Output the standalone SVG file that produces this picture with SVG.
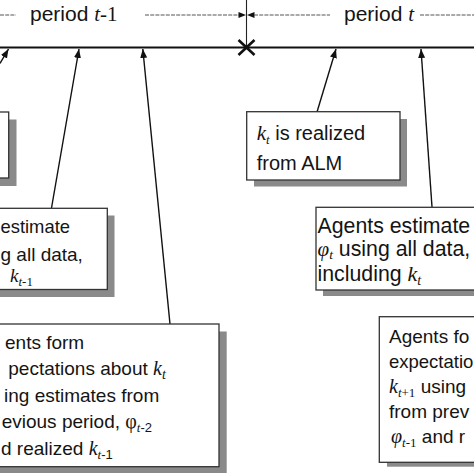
<svg xmlns="http://www.w3.org/2000/svg" width="474" height="474" viewBox="0 0 474 474">
<defs>
<marker id="ah" markerWidth="9" markerHeight="8" refX="9" refY="4" orient="auto" markerUnits="userSpaceOnUse">
<path d="M0,0.5 L9,4 L0,7.5 z" fill="#111"/>
</marker>
</defs>
<style>
.t{font-family:"Liberation Sans",Arial,sans-serif;fill:#141414}
.m{font-family:"Liberation Serif","Times New Roman",serif;font-style:italic}
.r{font-family:"Liberation Serif","Times New Roman",serif}
.box{fill:#fff;stroke:#333;stroke-width:1.3}
.sh{fill:#8a8a8a}
.dim{stroke:#555;stroke-width:1;stroke-dasharray:4 1.2;fill:none}
.con{stroke:#111;stroke-width:1.4;fill:none;marker-end:url(#ah)}
</style>
<rect width="474" height="474" fill="#fff"/>

<g id="timeline">
<line x1="0" y1="47.5" x2="474" y2="47.5" stroke="#111" stroke-width="1.8"/>
<line x1="246.5" y1="0" x2="246.5" y2="47" stroke="#222" stroke-width="1.1"/>
<path d="M238.5,40 L254.5,55 M254.5,40 L238.5,55" stroke="#111" stroke-width="2.6"/>
</g>

<g id="period-labels">
<line class="dim" x1="0" y1="15" x2="16" y2="15"/>
<line class="dim" x1="145" y1="15" x2="239" y2="15"/>
<polygon points="246,15 238.5,12 238.5,18" fill="#111"/>
<polygon points="247,15 254.5,12 254.5,18" fill="#111"/>
<line class="dim" x1="254" y1="15" x2="330" y2="15"/>
<line class="dim" x1="420" y1="15" x2="474" y2="15"/>
<text class="t" x="30" y="21" font-size="21">period <tspan class="m">t</tspan><tspan class="r">-1</tspan></text>
<text class="t" x="344" y="21" font-size="21">period <tspan class="m">t</tspan></text>
</g>

<g id="connectors">
<line class="con" x1="0" y1="63.5" x2="8.5" y2="49"/>
<line class="con" x1="51.5" y1="208" x2="79" y2="49"/>
<line class="con" x1="170" y1="324" x2="142.8" y2="49"/>
<line class="con" x1="317" y1="112" x2="336" y2="49"/>
<line class="con" x1="432" y1="207" x2="421" y2="49"/>
</g>

<g id="box-left-top">
<rect class="sh" x="-10" y="119.5" width="26.5" height="66.5"/>
<rect class="box" x="-10" y="112" width="18.7" height="66"/>
</g>

<g id="box-left-estimate">
<rect class="sh" x="-10" y="215.5" width="124.5" height="81.5"/>
<rect class="box" x="-10" y="208.3" width="117.3" height="81.2"/>
<text class="t" x="0.5" y="233.3" font-size="18.4">estimate</text>
<text class="t" x="0.5" y="261" font-size="19">g all data,</text>
<text class="t" x="10" y="281.7" font-size="19"><tspan class="m">k</tspan><tspan class="m" font-size="13" dy="4">t</tspan><tspan class="r" font-size="13">-1</tspan></text>
</g>

<g id="box-left-expect">
<rect class="sh" x="-10" y="331.5" width="236.7" height="141.5"/>
<rect class="box" x="-10" y="324" width="229" height="142.7"/>
<text class="t" x="5" y="349" font-size="19">ents form</text>
<text class="t" x="8.3" y="375" font-size="19">pectations about <tspan class="m" font-size="20">k</tspan><tspan class="m" font-size="14" dy="4">t</tspan></text>
<text class="t" x="4" y="401.7" font-size="19">ing estimates from</text>
<text class="t" x="1.7" y="428.3" font-size="19">evious period, <tspan class="r" font-size="20">φ</tspan><tspan class="m" font-size="13" dy="4">t</tspan><tspan font-size="13">-2</tspan></text>
<text class="t" x="1" y="455" font-size="19">d realized <tspan class="m" font-size="20">k</tspan><tspan class="m" font-size="13" dy="4">t</tspan><tspan font-size="13">-1</tspan></text>
</g>

<g id="box-kt-realized">
<rect class="sh" x="254" y="119" width="153" height="67.5"/>
<rect class="box" x="246.7" y="111.7" width="153.3" height="68.3"/>
<text class="t" x="256.7" y="140" font-size="20"><tspan class="m" font-size="21">k</tspan><tspan class="m" font-size="13" dy="4">t</tspan><tspan dy="-4"> is realized</tspan></text>
<text class="t" x="256.7" y="170" font-size="20">from ALM</text>
</g>

<g id="box-right-estimate">
<rect class="sh" x="323" y="214.5" width="170" height="81.5"/>
<rect class="box" x="316" y="207.3" width="170" height="82.7"/>
<text class="t" x="317.5" y="233.3" font-size="21.3">Agents estimate</text>
<text class="t" x="317.5" y="256.2" font-size="21.3"><tspan class="m" font-size="21">φ</tspan><tspan class="m" font-size="13.5" dy="3">t</tspan><tspan dy="-3"> using all data,</tspan></text>
<text class="t" x="317.5" y="281" font-size="21.3">including <tspan class="m" font-size="22">k</tspan><tspan class="m" font-size="14" dy="4">t</tspan></text>
</g>

<g id="box-right-expect">
<rect class="sh" x="387" y="322.5" width="100" height="144.2"/>
<rect class="box" x="379.3" y="316.7" width="110" height="145.6"/>
<text class="t" x="389" y="343" font-size="19">Agents fo</text>
<text class="t" x="389" y="368" font-size="18.5">expectatio</text>
<text class="t" x="389" y="393" font-size="19"><tspan class="m" font-size="20">k</tspan><tspan class="m" font-size="13" dy="4">t</tspan><tspan class="r" font-size="13">+1</tspan><tspan dy="-4"> using</tspan></text>
<text class="t" x="389" y="418" font-size="19">from prev</text>
<text class="t" x="391" y="443" font-size="19"><tspan class="m" font-size="20">φ</tspan><tspan class="m" font-size="13" dy="4">t</tspan><tspan class="r" font-size="13">-1</tspan><tspan dy="-4"> and r</tspan></text>
</g>
</svg>
